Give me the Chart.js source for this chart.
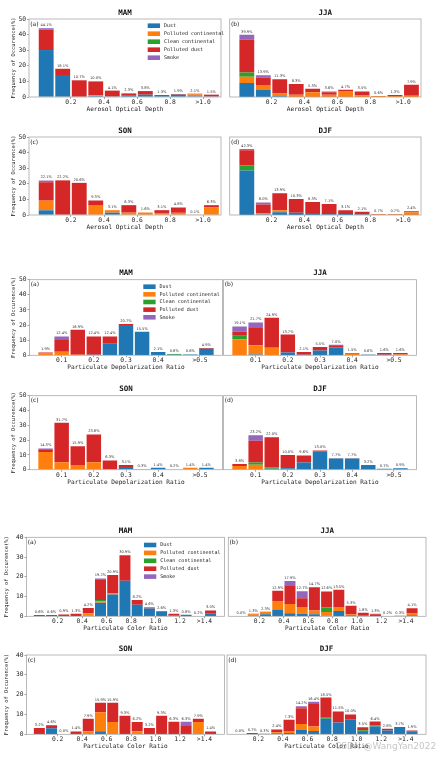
<!DOCTYPE html>
<html><head><meta charset="utf-8">
<script src="https://cdn.jsdelivr.net/npm/chart.js@4/dist/chart.umd.min.js"></script>
<style>
html,body{margin:0;padding:0;background:#fff;}
#wrap{position:relative;width:437px;height:757px;overflow:hidden;background:#fff;}
#wrap canvas{position:absolute;left:0;top:0;}
#wm{position:absolute;left:335px;top:741px;font:9px "DejaVu Sans",sans-serif;color:rgba(150,150,150,0.55);white-space:nowrap;z-index:5;}
</style>
</head><body>
<div id="wrap"><div id="wm">CSDN @WangYan2022</div></div>
<script>
// ---------- categories / ticks ----------
const SERIES = ['Dust','Polluted continental','Clean continental','Polluted dust','Smoke'];
const COLORS = ['#1f77b4','#ff7f0e','#2ca02c','#d62728','#9467bd'];

const AOD_BINS = [0.05,0.15,0.25,0.35,0.45,0.55,0.65,0.75,0.85,0.95,1.05];
const AOD_TICKS = [0.2,0.4,0.6,0.8,1.0];
const AOD_TICK_LABELS = ['0.2','0.4','0.6','0.8','>1.0'];

const PDR_BINS = [0.05,0.10,0.15,0.20,0.25,0.30,0.35,0.40,0.45,0.50,0.55];
const PDR_TICKS = [0.1,0.2,0.3,0.4,0.53];
const PDR_TICK_LABELS = ['0.1','0.2','0.3','0.4','>0.5'];

const CR_BINS = [0.05,0.15,0.25,0.35,0.45,0.55,0.65,0.75,0.85,0.95,1.05,1.15,1.25,1.35,1.45];
const CR_TICKS = [0.2,0.4,0.6,0.8,1.0,1.2,1.4];
const CR_TICK_LABELS = ['0.2','0.4','0.6','0.8','1.0','1.2','>1.4'];

// ---------- Aerosol Optical Depth ----------
const AOD_MAM_DUST  = [30.1,14.1,0.2,0.6,0.3,0.8,1.5,1.3,1.5,0.5,0.3];
const AOD_MAM_PC    = [0,0,0,0.4,0,0,0,0,0,1.2,0];
const AOD_MAM_CC    = [0,0,0,0,0,0,0,0,0,0,0];
const AOD_MAM_PD    = [13.1,4.0,10.5,9.0,3.8,1.5,2.3,0,0.4,0.4,1.2];
const AOD_MAM_SMOKE = [0.9,0,0,0,0,0,0,0,0,0,0];

const AOD_JJA_DUST  = [9.0,4.5,0.5,0,0,0,0,0,0,0,0];
const AOD_JJA_PC    = [4.0,3.2,1.8,1.5,3.0,1.5,3.9,1.0,0.6,0.6,0.8];
const AOD_JJA_CC    = [2.7,0,0,0,0,0,0,0,0,0,0];
const AOD_JJA_PD    = [21.0,4.7,9.0,6.8,2.3,1.5,0.8,2.5,0,0.7,7.1];
const AOD_JJA_SMOKE = [3.2,1.5,0,0,0,0.6,0,0,0,0,0];

const AOD_SON_DUST  = [3.0,0,0,0,1.5,0,0,0,0,0,0];
const AOD_SON_PC    = [6.2,0,0,6.0,1.6,1.5,1.6,1.3,1.4,0.1,4.8];
const AOD_SON_CC    = [0,0,0,0,0,0,0,0,0,0,0];
const AOD_SON_PD    = [11.8,22.2,20.6,3.3,0,4.8,0,1.8,3.4,0,1.5];
const AOD_SON_SMOKE = [1.1,0,0,0,0,0,0,0,0,0,0];

const AOD_DJF_DUST  = [28.5,0.3,1.7,1.5,1.3,0.5,0.6,0.4,0,0,0];
const AOD_DJF_PC    = [0,0.7,1.3,0,0,0,0,0,0.4,0.4,1.8];
const AOD_DJF_CC    = [3.3,0,0,0,0,0,0,0,0,0,0];
const AOD_DJF_PD    = [9.7,5.7,10.9,8.8,7.0,6.6,2.5,1.7,0.3,0.3,0.6];
const AOD_DJF_SMOKE = [0.8,1.3,0,0,0,0,0,0,0,0,0];

// ---------- Particulate Depolarization Ratio ----------
const PDR_MAM_DUST  = [0,0,0,0.3,7.7,20.0,15.5,2.1,0.3,0.6,4.4];
const PDR_MAM_PC    = [1.2,2.4,0.4,0,0,0,0,0,0,0,0];
const PDR_MAM_CC    = [0,0,0,0,0,0,0,0,0.5,0,0];
const PDR_MAM_PD    = [0.7,8.2,16.5,12.1,4.7,0.7,0,0,0,0,0.5];
const PDR_MAM_SMOKE = [0,1.8,0,0,0,0,0,0,0,0,0];

const PDR_JJA_DUST  = [0,0.5,0,1.8,0.3,3.1,5.1,0,0.4,0.4,0];
const PDR_JJA_PC    = [10.6,6.1,5.0,0,0,0,0,1.0,0,0,0.6];
const PDR_JJA_CC    = [2.4,0,0,0,0,0,0,0,0,0,0];
const PDR_JJA_PD    = [2.6,11.9,19.9,11.9,1.8,2.4,1.5,0.5,0,1.2,1.0];
const PDR_JJA_SMOKE = [3.5,3.2,0,0,0,0,0.4,0,0.2,0,0];

const PDR_SON_DUST  = [0,0,0,0,0,1.8,0.3,1.4,0.2,0,1.4];
const PDR_SON_PC    = [11.9,5.0,3.2,5.0,0.2,0,0,0,0,1.4,0];
const PDR_SON_CC    = [0,0,0,0,0,0,0,0,0,0,0];
const PDR_SON_PD    = [1.4,26.7,12.7,18.8,6.1,1.3,0,0,0,0,0];
const PDR_SON_SMOKE = [1.0,0,0,0,0,0,0,0,0,0,0];

const PDR_DJF_DUST  = [0,0,0.7,0.9,4.9,12.4,7.5,7.5,3.2,0.7,0.9];
const PDR_DJF_PC    = [2.5,3.3,0,0,0,0,0,0,0,0,0];
const PDR_DJF_CC    = [0,1.6,0.8,0,0,0,0,0,0,0,0];
const PDR_DJF_PD    = [1.3,14.6,20.5,9.1,4.7,0.6,0.2,0.2,0,0,0];
const PDR_DJF_SMOKE = [0,3.7,0,0,0,0,0,0,0,0,0];

// ---------- Particulate Color Ratio ----------
const CR_MAM_DUST  = [0,0,0,0,0.3,6.8,11.0,18.0,5.9,3.9,2.2,0.3,0.8,0,1.5];
const CR_MAM_PC    = [0,0,0,0,1.2,0.8,0.6,0,0,0,0,0,0,0,0];
const CR_MAM_CC    = [0,0,0,0,0,0.6,0,0,0,0,0,0,0,0,0];
const CR_MAM_PD    = [0.6,0.6,0.9,1.3,2.7,10.2,9.3,12.9,2.3,0.5,0.4,1.0,0,0.2,1.5];
const CR_MAM_SMOKE = [0,0,0,0,0,0.8,0,0,0,0.2,0,0,0,0,0];

const CR_JJA_DUST  = [0,0,1.0,3.5,1.5,1.3,1.0,0.3,2.7,0.5,0.3,0,0,0,0.5];
const CR_JJA_PC    = [0,1.0,1.2,4.2,4.7,3.4,2.0,1.9,2.0,0.6,0,0,0,0,0.9];
const CR_JJA_CC    = [0,0,0,0,0,0,0,2.2,0,0,0,0,0,0,0];
const CR_JJA_PD    = [0,0.3,0.1,5.2,9.2,4.5,11.7,8.2,8.8,4.2,1.5,1.0,0.2,0.3,2.7];
const CR_JJA_SMOKE = [0,0,0,0,2.5,3.5,0,0,0,0,0,0.3,0,0,0];

const CR_SON_DUST  = [0,3.0,0,0,0,1.5,0,0,0,0,0,0,0,0,0];
const CR_SON_PC    = [0,0,0,0,1.5,9.6,6.2,0,1.5,0,0,0,0,6.2,0];
const CR_SON_CC    = [0,0,0,0,0,0,0,0,0,0,0,0,0,0,0];
const CR_SON_PD    = [3.2,1.6,0,1.4,6.4,4.8,9.7,9.3,4.7,3.2,9.3,6.3,4.6,1.7,1.4];
const CR_SON_SMOKE = [0,0,0,0,0,0,0,0,0,0,0,0,1.7,0,0];

const CR_DJF_DUST  = [0,0,0,0.5,0.7,2.2,1.7,7.9,5.9,7.6,1.2,3.9,1.9,3.7,1.5];
const CR_DJF_PC    = [0,0,0,0.5,1.0,3.0,2.2,0,0,0,0,0,0,0,0];
const CR_DJF_CC    = [0,0,0,0,0,0,0,0.5,0,0,0.8,0.7,0,0,0];
const CR_DJF_PD    = [0,0.7,0.3,1.4,5.6,7.9,11.7,10.1,5.6,2.4,1.5,1.8,0.9,0,0.4];
const CR_DJF_SMOKE = [0,0,0,0,0,1.1,0.8,0,0,0,0,0,0,0,0];

// ---------- layout / style ----------
const MONO = '"DejaVu Sans Mono", "Liberation Mono", monospace';
const SANS = '"DejaVu Sans", sans-serif';
const W = 437, H = 757;
const Y_TITLE = 'Frequency of Occurence(%)';
const YT_SIZE = 5.4, XT_SIZE = 6.1, TICK_SIZE = 6.3;

const G1 = {bins: AOD_BINS, ticks: AOD_TICKS, tickLabels: AOD_TICK_LABELS, xMin: -0.054, xMax: 1.108, yMax: 50, xTitle: 'Aerosol Optical Depth', yTitleX: 14,
  legend: {x: 147.7, y: 25.7, dy: 8}};
const G2 = {bins: PDR_BINS, ticks: PDR_TICKS, tickLabels: PDR_TICK_LABELS, xMin: 0, xMax: 0.6, yMax: 50, xTitle: 'Particulate Depolarization Ratio', yTitleX: 14,
  legend: {x: 143.3, y: 286.7, dy: 7.65}};
const G3 = {bins: CR_BINS, ticks: CR_TICKS, tickLabels: CR_TICK_LABELS, xMin: -0.055, xMax: 1.564, yMax: 40, xTitle: 'Particulate Color Ratio', yTitleX: 7,
  legend: {x: 144, y: 545, dy: 7.9}};

const PANELS = [
  {g: G1, title: 'MAM', letter: '(a)', area: [29, 19, 221, 97], left: true, legend: true,
   series: [AOD_MAM_DUST, AOD_MAM_PC, AOD_MAM_CC, AOD_MAM_PD, AOD_MAM_SMOKE]},
  {g: G1, title: 'JJA', letter: '(b)', area: [229.7, 19, 421, 97], left: false,
   series: [AOD_JJA_DUST, AOD_JJA_PC, AOD_JJA_CC, AOD_JJA_PD, AOD_JJA_SMOKE]},
  {g: G1, title: 'SON', letter: '(c)', area: [29, 137, 221, 215], left: true,
   series: [AOD_SON_DUST, AOD_SON_PC, AOD_SON_CC, AOD_SON_PD, AOD_SON_SMOKE]},
  {g: G1, title: 'DJF', letter: '(d)', area: [229.7, 137, 421, 215], left: false,
   series: [AOD_DJF_DUST, AOD_DJF_PC, AOD_DJF_CC, AOD_DJF_PD, AOD_DJF_SMOKE]},

  {g: G2, title: 'MAM', letter: '(a)', area: [29.5, 279.7, 222.5, 355.3], left: true, legend: true,
   series: [PDR_MAM_DUST, PDR_MAM_PC, PDR_MAM_CC, PDR_MAM_PD, PDR_MAM_SMOKE]},
  {g: G2, title: 'JJA', letter: '(b)', area: [223.5, 279.7, 416.5, 355.3], left: false,
   series: [PDR_JJA_DUST, PDR_JJA_PC, PDR_JJA_CC, PDR_JJA_PD, PDR_JJA_SMOKE]},
  {g: G2, title: 'SON', letter: '(c)', area: [29.5, 395.7, 222.5, 469.7], left: true,
   series: [PDR_SON_DUST, PDR_SON_PC, PDR_SON_CC, PDR_SON_PD, PDR_SON_SMOKE]},
  {g: G2, title: 'DJF', letter: '(d)', area: [223.5, 395.7, 416.5, 469.7], left: false,
   series: [PDR_DJF_DUST, PDR_DJF_PC, PDR_DJF_CC, PDR_DJF_PD, PDR_DJF_SMOKE]},

  {g: G3, title: 'MAM', letter: '(a)', area: [26.5, 537.3, 224.5, 616.3], left: true, legend: true,
   series: [CR_MAM_DUST, CR_MAM_PC, CR_MAM_CC, CR_MAM_PD, CR_MAM_SMOKE]},
  {g: G3, title: 'JJA', letter: '(b)', area: [228.3, 537.3, 426, 616.3], left: false,
   series: [CR_JJA_DUST, CR_JJA_PC, CR_JJA_CC, CR_JJA_PD, CR_JJA_SMOKE]},
  {g: G3, title: 'SON', letter: '(c)', area: [26.5, 655, 224.5, 734.3], left: true,
   series: [CR_SON_DUST, CR_SON_PC, CR_SON_CC, CR_SON_PD, CR_SON_SMOKE]},
  {g: G3, title: 'DJF', letter: '(d)', area: [227, 655, 426, 734.3], left: false,
   series: [CR_DJF_DUST, CR_DJF_PC, CR_DJF_CC, CR_DJF_PD, CR_DJF_SMOKE]},
];

function makePanel(p) {
  const g = p.g;
  const [L, T, R, B] = p.area;
  const cv = document.createElement('canvas');
  cv.width = W; cv.height = H;
  cv.style.width = W + 'px'; cv.style.height = H + 'px';
  document.getElementById('wrap').appendChild(cv);

  const yw = p.left ? L - (g.yTitleX - YT_SIZE / 2) : 0;
  const xTitleY = B + 12.3;
  const xh = (xTitleY - B) + XT_SIZE / 2;
  const padding = {left: L - yw, top: T, right: W - R, bottom: H - B - xh};

  const datasets = p.series.map((arr, i) => ({
    label: SERIES[i],
    data: g.bins.map((x, j) => ({x: x, y: arr[j]})),
    backgroundColor: COLORS[i],
    borderWidth: 0,
    barPercentage: 0.9,
    categoryPercentage: 1.0
  }));

  const deco = {
    id: 'deco',
    afterDatasetsDraw(chart) {
      const ctx = chart.ctx, xs = chart.scales.x, ys = chart.scales.y;
      ctx.save();
      ctx.fillStyle = '#333';
      ctx.font = '3.6px ' + SANS;
      ctx.textAlign = 'center';
      ctx.textBaseline = 'bottom';
      g.bins.forEach((b, j) => {
        const tot = p.series.reduce((s, a) => s + a[j], 0);
        const px = xs.getPixelForValue(b);
        const py = ys.getPixelForValue(tot) - 1.2;
        ctx.fillText(tot.toFixed(1) + '%', px, py);
      });
      ctx.restore();
    },
    afterDraw(chart) {
      const ctx = chart.ctx, a = chart.chartArea;
      ctx.save();
      ctx.strokeStyle = '#a8a8a8';
      ctx.lineWidth = 0.8;
      ctx.strokeRect(a.left, a.top, a.right - a.left, a.bottom - a.top);
      ctx.fillStyle = '#111';
      ctx.font = 'bold 7.5px ' + MONO;
      ctx.textAlign = 'center';
      ctx.textBaseline = 'middle';
      ctx.fillText(p.title, (a.left + a.right) / 2, a.top - 6.3);
      ctx.font = '6px ' + SANS;
      ctx.textAlign = 'left';
      ctx.fillStyle = '#222';
      ctx.fillText(p.letter, a.left + 1.2, a.top + 5);
      if (p.legend) {
        const lg = g.legend;
        ctx.font = '5px ' + MONO;
        ctx.textBaseline = 'middle';
        chart.data.datasets.forEach((ds, i) => {
          const yy = lg.y + i * lg.dy;
          ctx.fillStyle = ds.backgroundColor;
          ctx.fillRect(lg.x, yy - 2.3, 12.3, 4.6);
          ctx.fillStyle = '#222';
          ctx.fillText(ds.label, lg.x + 16.3, yy);
        });
      }
      ctx.restore();
    }
  };

  new Chart(cv, {
    type: 'bar',
    data: {datasets},
    options: {
      responsive: false,
      animation: false,
      devicePixelRatio: 1,
      layout: {padding},
      plugins: {legend: {display: false}, tooltip: {enabled: false}, title: {display: false}},
      scales: {
        x: {
          type: 'linear', stacked: true, min: g.xMin, max: g.xMax, bounds: 'data', offset: false,
          grid: {offset: false, drawOnChartArea: false, drawTicks: true, tickLength: 2, color: '#666', lineWidth: 0.6},
          border: {display: false},
          afterBuildTicks: s => { s.ticks = g.ticks.map(v => ({value: v})); },
          ticks: {autoSkip: false, maxRotation: 0, minRotation: 0, padding: 0.3, color: '#222',
                  font: {family: MONO, size: TICK_SIZE, lineHeight: 1},
                  callback: (v, i) => g.tickLabels[i]},
          title: {display: true, text: g.xTitle, color: '#222', padding: 0,
                  font: {family: MONO, size: XT_SIZE, lineHeight: 1}},
          afterFit: s => { s.height = xh; }
        },
        y: p.left ? {
          stacked: true, min: 0, max: g.yMax,
          grid: {drawOnChartArea: false, drawTicks: true, tickLength: 2, color: '#666', lineWidth: 0.6},
          border: {display: false},
          ticks: {stepSize: 10, padding: 1, color: '#222', font: {family: MONO, size: TICK_SIZE, lineHeight: 1}},
          title: {display: true, text: Y_TITLE, color: '#222', padding: 0,
                  font: {family: MONO, size: YT_SIZE, lineHeight: 1}},
          afterFit: s => { s.width = yw; }
        } : {
          stacked: true, min: 0, max: g.yMax, display: false
        }
      }
    },
    plugins: [deco]
  });
}

PANELS.forEach(makePanel);
</script>
</body></html>
